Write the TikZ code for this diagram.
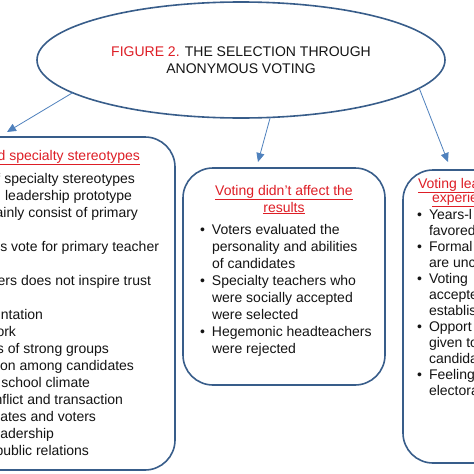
\documentclass[tikz,border=0pt]{standalone}
\usepackage{fontspec}
\setmainfont{Liberation Sans}
\usetikzlibrary{shapes.geometric,arrows.meta}
\definecolor{edge}{RGB}{56,93,138}
\definecolor{arr}{RGB}{79,129,189}
\definecolor{tred}{RGB}{222,30,38}
\definecolor{ink}{RGB}{20,20,20}
\newcommand{\bul}{\makebox[12pt][l]{•}}
\newcommand{\bulr}{\makebox[12pt][l]{•}}
\tikzset{
  boxshape/.style={draw=edge, fill=white, line width=1.6pt, rounded corners=30pt, inner sep=0pt, outer sep=0pt},
  oval/.style={ellipse, draw=edge, fill=white, line width=1.6pt, minimum width=408pt, minimum height=116pt,
    inner sep=0pt, outer sep=0pt, align=center, font=\fontsize{14}{17}\selectfont, text=ink},
  link/.style={draw=arr, line width=0.8pt, -{Triangle[length=9pt,width=8pt]}},
  txt/.style={anchor=base west, inner sep=0pt, outer sep=0pt, font=\fontsize{14}{17}\selectfont, text=ink},
  txtr/.style={txt, anchor=base east},
  ttl/.style={txt, text=tred},
  ttlc/.style={txt, anchor=base, text=tred},
  ttlr/.style={txtr, text=tred}
}
\begin{document}
\begin{tikzpicture}[x=1pt,y=-1pt]
\useasboundingbox (0,0) rectangle (474,474);
\fill[white] (0,0) rectangle (474,474);
\clip (0,0) rectangle (474,474);

% boxes
\node[boxshape, minimum width=375pt, minimum height=333pt] (leftbox) at (-12.5,303.5) {};
\node[boxshape, minimum width=202pt, minimum height=217pt] (midbox) at (284,276.5) {};
\node[boxshape, minimum width=247pt, minimum height=293pt] (rightbox) at (526.5,316.5) {};

% ellipse
\node[oval] (oval) at (241,60) {\textcolor{tred}{FIGURE 2.} THE SELECTION THROUGH\\ANONYMOUS VOTING};

% connectors
\coordinate (tipL) at (7,132);
\coordinate (tipM) at (258,162);
\coordinate (tipR) at (448,162);
\draw[link] (oval.191.7) -- (tipL);
\draw[link] (oval.297) -- (tipM);
\draw[link] (oval.351.1) -- (tipR);

% left box text
\node[ttlr] (l0) at (140,160) {\underline{nd specialty stereotypes}};
\node[txtr] (l1) at (135,183) {of specialty stereotypes};
\node[txtr] (l2) at (132,200) {leadership prototype};
\node[txtr] (l3) at (138,217) {mainly consist of primary};
\node[txtr] (l4) at (159,251) {es vote for primary teacher};
\node[txtr] (l5) at (151,285) {ers does not inspire trust};
\node[txtr] (l6) at (43,319) {ntation};
\node[txtr] (l7) at (16,336) {ork};
\node[txtr] (l8) at (109,353) {s of strong groups};
\node[txtr] (l9) at (134,370) {on among candidates};
\node[txtr] (l10) at (90,387) {school climate};
\node[txtr] (l11) at (123,404) {onflict and transaction};
\node[txtr] (l12) at (96,421) {ates and voters};
\node[txtr] (l13) at (54,438) {eadership};
\node[txtr] (l14) at (89,455) {public relations};

% middle box text
\node[ttlc] (m0) at (284,195) {\underline{Voting didn’t affect the}};
\node[ttlc] (m1) at (284,212) {\underline{results}};
\node[txt] (m2) at (200,234) {\bul Voters evaluated the};
\node[txt] (m3) at (212,251) {personality and abilities};
\node[txt] (m4) at (212,268) {of candidates};
\node[txt] (m5) at (200,285) {\bul Specialty teachers who};
\node[txt] (m6) at (212,302) {were socially accepted};
\node[txt] (m7) at (212,319) {were selected};
\node[txt] (m8) at (200,336) {\bul Hegemonic headteachers};
\node[txt] (m9) at (212,353) {were rejected};

% right box text
\node[ttl] (r0) at (418,188) {\underline{Voting lea}};
\node[ttl] (r1) at (432,202) {\underline{experienc}};
\node[txt] (r2) at (417,219) {\bulr Years-l};
\node[txt] (r3) at (429,235) {favored};
\node[txt] (r4) at (417,251) {\bulr Formal};
\node[txt] (r5) at (429,267) {are unc};
\node[txt] (r6) at (417,283) {\bulr Voting};
\node[txt] (r7) at (429,299) {accepte};
\node[txt] (r8) at (429,315) {establis};
\node[txt] (r9) at (417,331) {\bulr Opport};
\node[txt] (r10) at (429,347) {given to};
\node[txt] (r11) at (429,363) {candida};
\node[txt] (r12) at (417,379) {\bulr Feeling};
\node[txt] (r13) at (429,395) {electora};
\end{tikzpicture}
\end{document}
